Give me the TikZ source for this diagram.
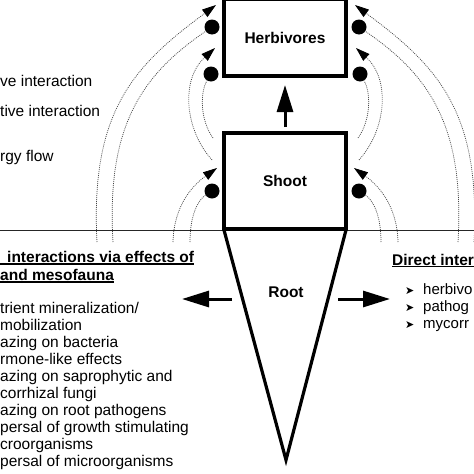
\documentclass[tikz,border=0pt]{standalone}
\usepackage{fontspec}
\setmainfont{Liberation Sans}
\newfontfamily\dejavu{DejaVu Sans}
\usetikzlibrary{arrows.meta}
\newcommand\myul[1]{\setbox0\hbox{#1}\rlap{\rule[-2pt]{\wd0}{1.3pt}}\box0}
\begin{document}
\begin{tikzpicture}[x=1pt,y=-1pt,
  box/.style={draw, line width=3.4pt, inner sep=0pt, font=\bfseries\fontsize{15.5}{18}\selectfont},
  lbl/.style={inner sep=0pt, anchor=base west, font=\fontsize{15.5}{18}\selectfont},
  hd/.style={inner sep=0pt, anchor=base west, font=\bfseries\fontsize{15.5}{18}\selectfont},
  bul/.style={inner sep=0pt, anchor=base west, font=\dejavu\fontsize{11}{11}\selectfont},
  dot/.style={circle, fill=black, inner sep=0pt, minimum size=15pt},
  inter/.style={draw=gray!55!black, line width=0.75pt, dash pattern=on 0.9pt off 1.1pt},
  tip/.style={inter, -{Triangle[length=14pt,width=9pt,color=black]}},
  big/.style={line width=3pt, -{Triangle[length=27pt,width=16pt]}},
]
\useasboundingbox (0,0) rectangle (474,474);
\clip (0,0) rectangle (474,474);
\fill[white] (0,0) rectangle (474,474);

% ground line
\coordinate (gl) at (0,230);
\coordinate (gr) at (474,230);
\draw[line width=1pt, gray!30!black] (gl) -- (gr);

% boxes
\node[box, minimum width=122pt, minimum height=77pt] (herb) at (285,37.5) {Herbivores};
\node[box, minimum width=122pt, minimum height=96pt] (shoot) at (285,181) {Shoot};

% root
\coordinate (rl) at (224,230);
\coordinate (rr) at (346,230);
\coordinate (rt) at (286,460);
\draw[line width=3.2pt, line join=miter] (rl) -- (rt) -- (rr);
\node[inner sep=0pt, font=\bfseries\fontsize{15.5}{18}\selectfont] (root) at (286,292.5) {Root};

% big arrows
\coordinate (ua1) at (285,127);
\coordinate (ua2) at (285,85);
\draw[big] (ua1) -- (ua2);
\coordinate (la1) at (232,299);
\coordinate (la2) at (182,299);
\draw[big] (la1) -- (la2);
\coordinate (ra1) at (338,299);
\coordinate (ra2) at (390,299);
\draw[big] (ra1) -- (ra2);

% dots
\node[dot] (d1) at (212,27) {};
\node[dot] (d2) at (211,74) {};
\node[dot] (d3) at (212,191) {};
\node[dot] (e1) at (359,27) {};
\node[dot] (e2) at (360,74) {};
\node[dot] (e3) at (359,191) {};

% left arcs
\coordinate (s1) at (97,242);   \coordinate (t1) at (216,5);
\draw[tip] (s1) .. controls (90,110) and (135,65) .. (t1);
\coordinate (s2) at (113,242);
\draw[inter] (s2) .. controls (106,125) and (143,74) .. (d1);
\coordinate (s3) at (212,160);  \coordinate (t3) at (215,48);
\draw[tip] (s3) .. controls (185,130) and (180,80) .. (t3);
\coordinate (s4) at (213,138);
\draw[inter] (s4) .. controls (200,120) and (200,92) .. (d2);
\coordinate (s5) at (173,242);  \coordinate (t5) at (217,168);
\draw[tip] (s5) .. controls (174,205) and (193,185) .. (t5);
\coordinate (s6) at (190,242);
\draw[inter] (s6) .. controls (190,215) and (198,200) .. (d3);

% right arcs
\coordinate (u1) at (474,242);  \coordinate (v1) at (355,5);
\draw[tip] (u1) .. controls (481,110) and (436,65) .. (v1);
\coordinate (u2) at (458,242);
\draw[inter] (u2) .. controls (465,125) and (428,74) .. (e1);
\coordinate (u3) at (359,160);  \coordinate (v3) at (356,48);
\draw[tip] (u3) .. controls (386,130) and (391,80) .. (v3);
\coordinate (u4) at (358,138);
\draw[inter] (u4) .. controls (371,120) and (371,92) .. (e2);
\coordinate (u5) at (398,242);  \coordinate (v5) at (354,168);
\draw[tip] (u5) .. controls (397,205) and (378,185) .. (v5);
\coordinate (u6) at (381,242);
\draw[inter] (u6) .. controls (381,215) and (373,200) .. (e3);

% legend
\node[lbl] (lg1) at (0,86) {ve interaction};
\node[lbl] (lg2) at (0,116.5) {tive interaction};
\node[lbl] (lg3) at (0,161) {rgy flow};

% left heading and list
\node[hd] (h1) at (0,262.5) {\myul{\hspace{7pt}interactions via effects of}};
\node[hd] (h2) at (0,280.5) {\myul{and mesofauna}};
\node[lbl] (l1) at (0,313) {trient mineralization/};
\node[lbl] (l2) at (0,330.1) {mobilization};
\node[lbl] (l3) at (0,347.2) {azing on bacteria};
\node[lbl] (l4) at (0,364.3) {rmone-like effects};
\node[lbl] (l5) at (0,381.4) {azing on saprophytic and};
\node[lbl] (l6) at (0,398.5) {corrhizal fungi};
\node[lbl] (l7) at (0,415.6) {azing on root pathogens};
\node[lbl] (l8) at (0,432.7) {persal of growth stimulating};
\node[lbl] (l9) at (0,449.8) {croorganisms};
\node[lbl] (l10) at (0,466.9) {persal of microorganisms};

% right heading and list
\node[hd] (dh) at (392,265) {\myul{Direct inter}};
\node[bul] (b1) at (405,294.5) {➤};
\node[bul] (b2) at (405,311.5) {➤};
\node[bul] (b3) at (405,328.5) {➤};
\node[lbl, font=\fontsize{15}{18}\selectfont] (i1) at (423,294.5) {herbivo};
\node[lbl, font=\fontsize{15}{18}\selectfont] (i2) at (423,311.5) {pathog};
\node[lbl, font=\fontsize{15}{18}\selectfont] (i3) at (423,328.5) {mycorr};
\end{tikzpicture}
\end{document}
